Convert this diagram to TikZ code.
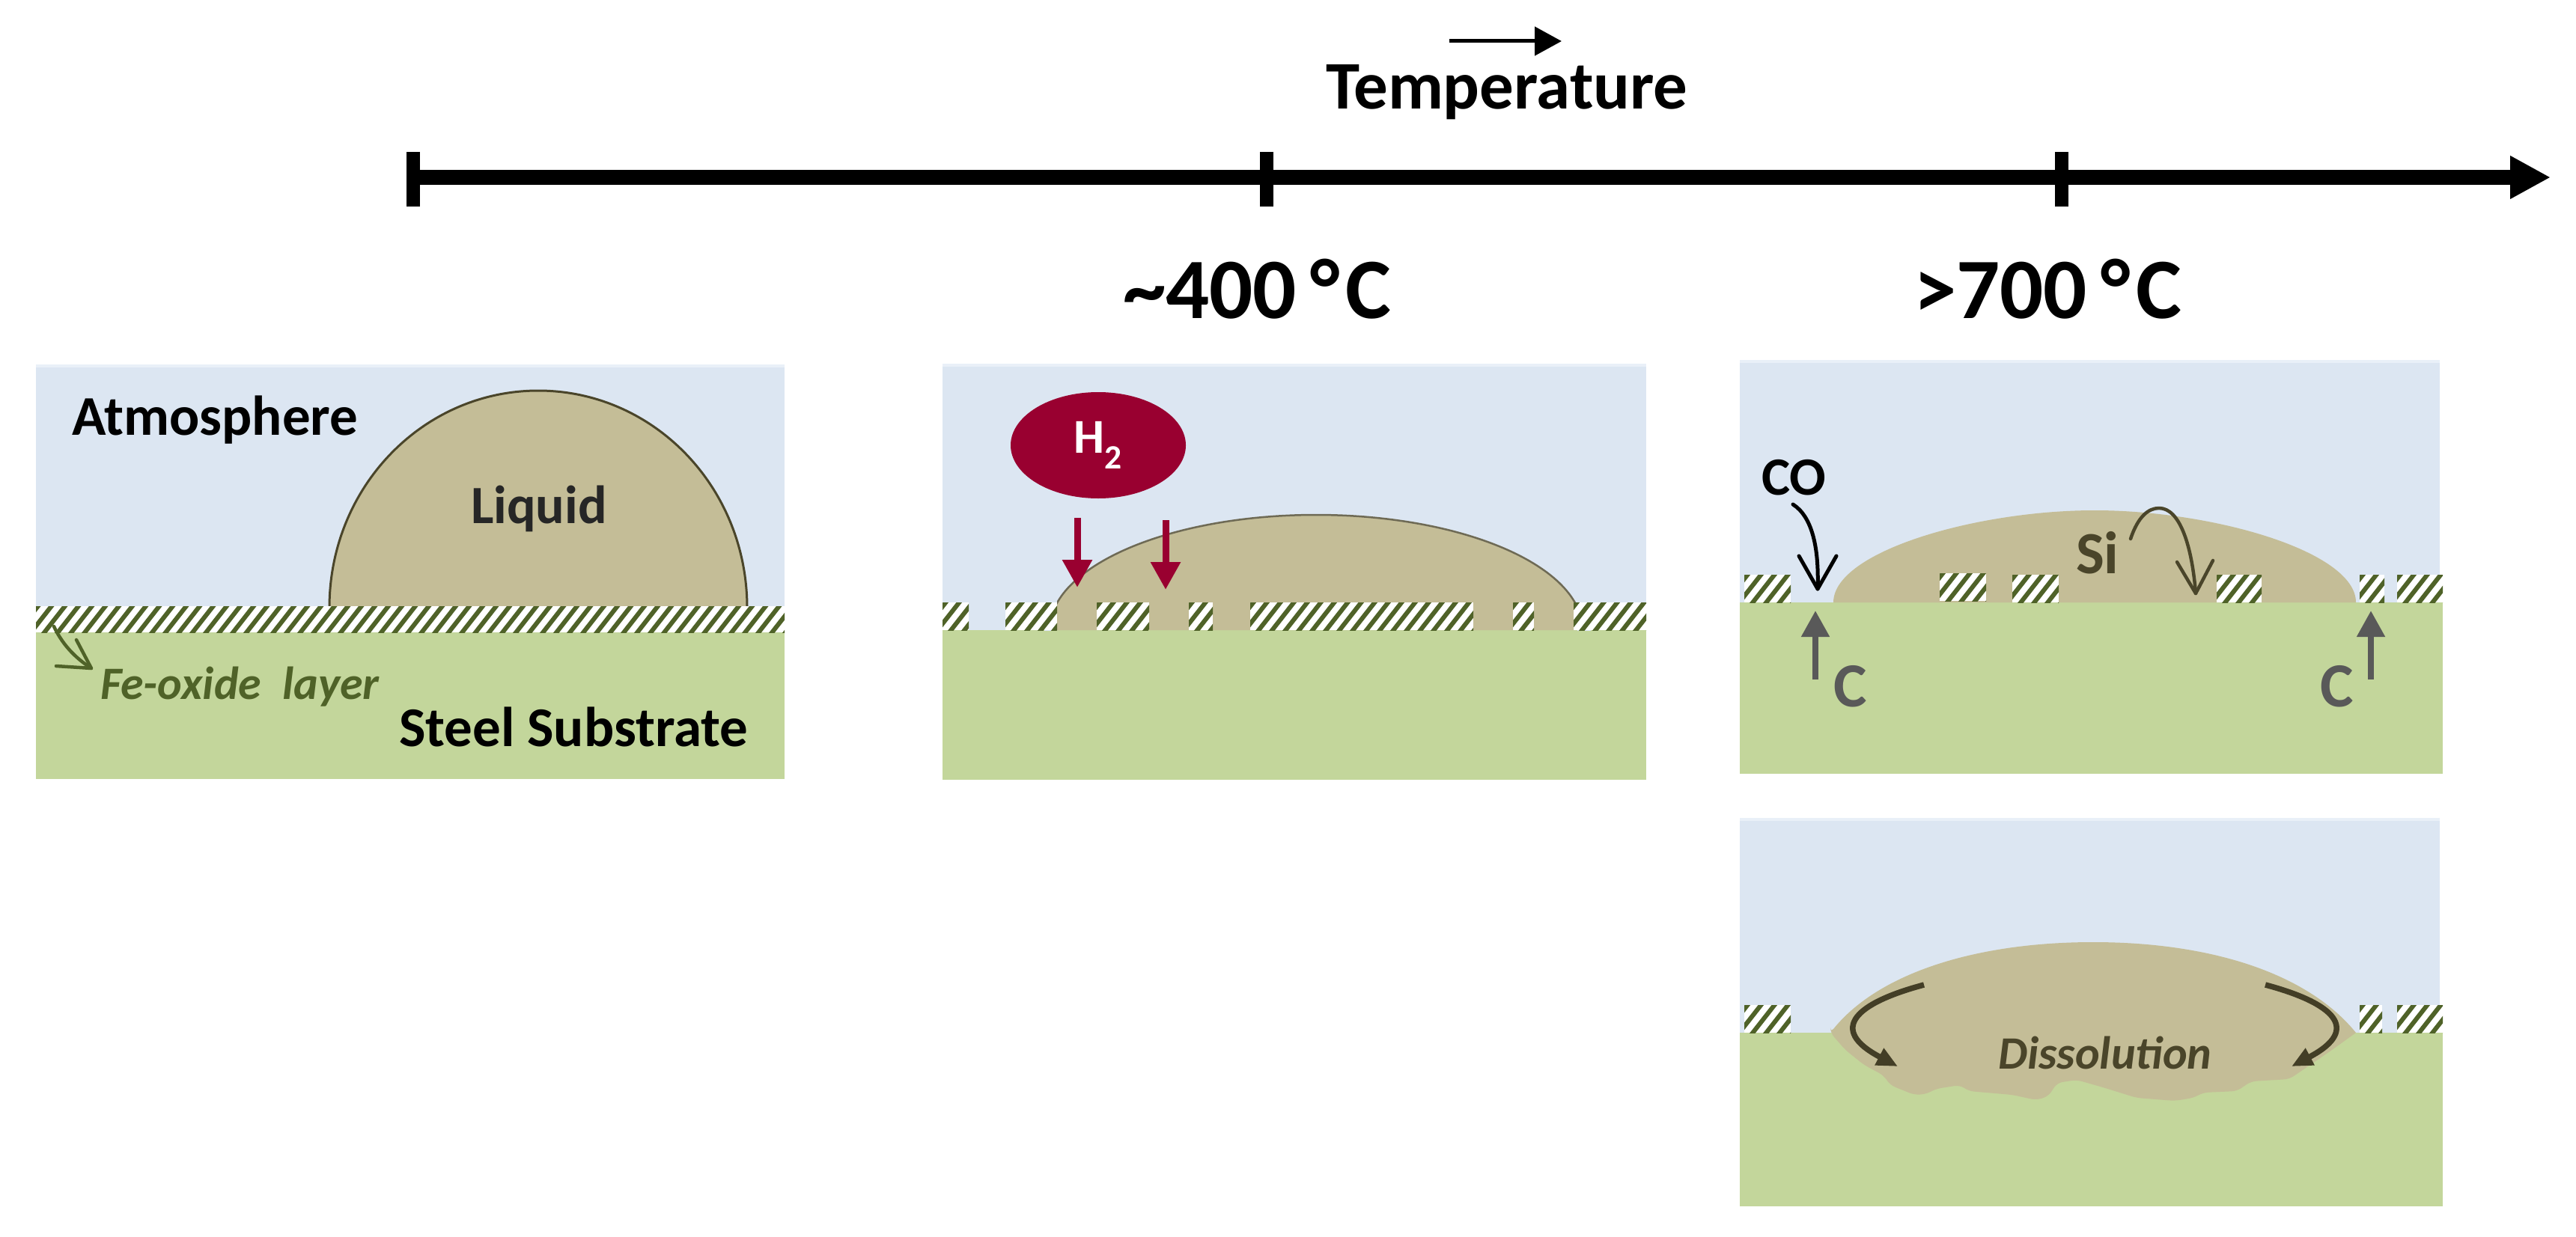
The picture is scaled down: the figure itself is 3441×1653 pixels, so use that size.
\documentclass[tikz,border=0pt]{standalone}
\usepackage{fontspec}
\setmainfont{Carlito}
\usetikzlibrary{arrows.meta,shapes.geometric}
\definecolor{skyc}{HTML}{DCE6F2}
\definecolor{paleedge}{HTML}{E9F0F8}
\definecolor{steelc}{HTML}{C3D69B}
\definecolor{liqc}{HTML}{C4BD97}
\definecolor{darkliq}{HTML}{4A452A}
\definecolor{oxc}{HTML}{4F6228}
\definecolor{maroonc}{HTML}{990030}
\definecolor{grayc}{HTML}{595959}
\newcommand{\fsz}[1]{\fontsize{#1}{#1}\selectfont}
\newcommand{\hatchbar}[4]{%
  \begin{scope}
    \clip (#1,#3) rectangle (#2,#4);
    \fill[white] (#1,#3) rectangle (#2,#4);
    \pgfmathtruncatemacro{\nst}{(#2-#1+60)/18}
    \foreach \k in {0,...,\nst}{
      \draw[line width=6pt,oxc] ({#1-45+18*\k},#4+3) -- ++(36,-46);
    }
  \end{scope}}
\tikzset{
  lbl/.style={inner sep=0pt,outer sep=0pt,anchor=base west},
  wing/.style={line cap=round,line join=round},
  redarrow/.style={-{Triangle[length=37pt,width=38pt]},line width=9pt,maroonc},
  grayarrow/.style={-{Triangle[length=35pt,width=36pt]},line width=8pt,grayc},
  dissarrow/.style={-{Triangle[length=28pt,width=24pt]},line width=7.5pt,darkliq!90!black},
  edgeline/.style={paleedge,line width=4pt},
}
\begin{document}
\begin{tikzpicture}[x=1pt,y=-1pt]
\useasboundingbox (0,0) rectangle (3441,1653);
\fill[white] (0,0) rectangle (3441,1653);

% axis
\coordinate (a0) at (552,237);
\coordinate (a1) at (3407,237);
\coordinate (t0u) at (552,203); \coordinate (t0d) at (552,276);
\coordinate (t1u) at (1692,203); \coordinate (t1d) at (1692,276);
\coordinate (t2u) at (2754,203); \coordinate (t2d) at (2754,276);
\draw[line width=20pt,-{Triangle[length=54pt,width=54pt]}] (a0) -- (a1);
\draw[line width=18pt] (t0u) -- (t0d);
\draw[line width=18pt] (t1u) -- (t1d);
\draw[line width=18pt] (t2u) -- (t2d);
\coordinate (ts) at (1936,55); \coordinate (te) at (2086,55);
\draw[line width=5pt,-{Triangle[length=36pt,width=38pt]}] (ts) -- (te);
\node[lbl,font=\bfseries\fsz{91}] (temp) at (1771,146) {Temperature};
\node[lbl,font=\bfseries\fsz{115}] (t400) at (1500,425) {\char"7E 400\kern18pt °\kern8pt C};
\node[lbl,font=\bfseries\fsz{115}] (t700) at (2556,425) {>700\kern18pt °\kern8pt C};

% panel 1
\fill[skyc] (48,489) rectangle (1048,812);
\fill[steelc] (48,845) rectangle (1048,1041);
\draw[edgeline] (48,489) -- (1048,489);
\draw[fill=liqc,draw=darkliq,line width=3pt] (440,812) .. controls (440,651) and (565,522) .. (719,522) .. controls (873,522) and (998,651) .. (998,812);
\hatchbar{48}{1048}{810}{845}
\node[lbl,font=\bfseries\fsz{75}] (atm) at (96,581) {Atmosphere};
\node[lbl,font=\bfseries\fsz{72},text=black!85] (liq) at (629,699) {Liquid};
\node[lbl,font=\bfseries\itshape\fsz{62},text=oxc] (fe) at (134,934) {Fe-oxide\ \ layer};
\node[lbl,font=\bfseries\fsz{75}] (steel) at (533,997) {Steel Substrate};
\coordinate (fs) at (72,837); \coordinate (fet) at (122,893);
\coordinate (few1) at (75,890); \coordinate (few2) at (102,855);
\draw[oxc,line width=4.5pt,wing] (fs) .. controls (85,865) and (105,882) .. (fet);
\draw[oxc,line width=4.5pt,wing] (few1) -- (fet) -- (few2);

% panel 2
\fill[skyc] (1259,488) rectangle (2199,842);
\fill[steelc] (1259,842) rectangle (2199,1042);
\draw[edgeline] (1259,488) -- (2199,488);
\draw[fill=liqc,draw=darkliq!80,line width=2.5pt] (1402,842) .. controls (1402,757) and (1561,688) .. (1758,688) .. controls (1955,688) and (2114,757) .. (2114,842);
\fill[skyc] (2107,800) rectangle (2125,843);
\fill[skyc] (1395,800) rectangle (1412,843);
\hatchbar{1259}{1294}{805}{842}
\hatchbar{1343}{1412}{805}{842}
\hatchbar{1465}{1535}{805}{842}
\hatchbar{1588}{1620}{805}{842}
\hatchbar{1670}{1968}{805}{842}
\hatchbar{2021}{2049}{805}{842}
\hatchbar{2102}{2199}{805}{842}
\node[ellipse,fill=maroonc,minimum width=234pt,minimum height=142pt,inner sep=0pt,text=white,font=\bfseries\fsz{65}] (h2) at (1467,595) {H\textsubscript{2}};
\coordinate (r1s) at (1439,692); \coordinate (r1e) at (1439,785);
\coordinate (r2s) at (1557,695); \coordinate (r2e) at (1557,788);
\draw[redarrow] (r1s) -- (r1e);
\draw[redarrow] (r2s) -- (r2e);

% panel 3
\fill[skyc] (2324,483) rectangle (3259,805);
\fill[steelc] (2324,805) rectangle (3263,1034);
\draw[edgeline] (2324,483) -- (3259,483);
\fill[liqc] (2449,805) .. controls (2449,737) and (2640,682) .. (2798,682) .. controls (2956,682) and (3147,737) .. (3147,805) -- cycle;
\hatchbar{2330}{2392}{768}{805}
\hatchbar{2591}{2653}{766}{803}
\hatchbar{2688}{2750}{768}{805}
\hatchbar{2961}{3021}{768}{805}
\hatchbar{3152}{3185}{768}{805}
\hatchbar{3202}{3263}{768}{805}
\node[lbl,font=\bfseries\fsz{72}] (co) at (2353,661) {CO};
\node[lbl,font=\bfseries\fsz{80},text=darkliq] (si) at (2773,766) {Si};
\node[lbl,font=\bfseries\fsz{84},text=grayc] (c1) at (2449,944) {C};
\node[lbl,font=\bfseries\fsz{84},text=grayc] (c2) at (3099,944) {C};
\coordinate (cos) at (2395,674); \coordinate (coe) at (2428,787);
\coordinate (cow1) at (2403,743); \coordinate (cow2) at (2453,743);
\draw[wing,line width=5pt] (cos) .. controls (2420,690) and (2430,730) .. (coe);
\draw[wing,line width=5pt] (cow1) -- (coe) -- (cow2);
\coordinate (sis) at (2846,720); \coordinate (sit) at (2884,679); \coordinate (sie) at (2933,793);
\coordinate (siw1) at (2908,751); \coordinate (siw2) at (2956,749);
\draw[wing,darkliq,line width=4.5pt] (sis) .. controls (2856,690) and (2870,679) .. (sit) .. controls (2912,679) and (2928,730) .. (sie);
\draw[wing,darkliq,line width=4.5pt] (siw1) -- (sie) -- (siw2);
\coordinate (g1s) at (2425,908); \coordinate (g1e) at (2425,816);
\coordinate (g2s) at (3167,908); \coordinate (g2e) at (3167,816);
\draw[grayarrow] (g1s) -- (g1e);
\draw[grayarrow] (g2s) -- (g2e);

% panel 4
\fill[skyc] (2324,1095) rectangle (3259,1380);
\fill[steelc] (2324,1380) rectangle (3263,1612);
\draw[edgeline] (2324,1095) -- (3259,1095);
\hatchbar{2330}{2392}{1343}{1380}
\hatchbar{3152}{3182}{1343}{1380}
\hatchbar{3202}{3263}{1343}{1380}
\fill[liqc] (2445,1380) .. controls (2510,1300) and (2640,1259) .. (2796,1259) .. controls (2952,1259) and (3082,1300) .. (3147,1380)
  [rounded corners=7pt] -- (3115,1403) -- (3083,1425) -- (3058,1442) -- (3007,1445) -- (2988,1458) -- (2943,1460) -- (2930,1467) -- (2905,1471) -- (2854,1467) -- (2809,1453) -- (2774,1443) -- (2748,1447) -- (2736,1465) -- (2720,1470) -- (2688,1463) -- (2630,1458) -- (2618,1450) -- (2586,1455) -- (2573,1462) -- (2557,1463) -- (2525,1450) -- (2516,1437) -- (2490,1423) -- (2465,1403) -- (2445,1380) -- cycle;
\node[lbl,font=\bfseries\itshape\fsz{62},text=darkliq] (dis) at (2669,1428) {Dissolution};
\coordinate (d1s) at (2570,1316); \coordinate (d1e) at (2535,1425);
\coordinate (d2s) at (3026,1316); \coordinate (d2e) at (3061,1425);
\draw[dissarrow] (d1s) .. controls (2480,1340) and (2440,1375) .. (d1e);
\draw[dissarrow] (d2s) .. controls (3116,1340) and (3156,1375) .. (d2e);
\end{tikzpicture}
\end{document}
